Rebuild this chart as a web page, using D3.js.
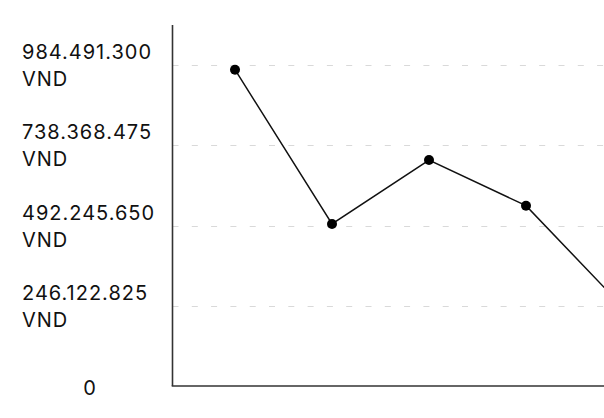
<!DOCTYPE html>
<html>
<head>
<meta charset="utf-8">
<script src="https://cdn.jsdelivr.net/npm/d3@7"></script>
<style>
  body { margin: 0; background: #fff; }
  svg { display: block; }
  .tick-label { font-family: Inter, "DejaVu Sans", sans-serif; font-size: 20px; letter-spacing: 1px; fill: #111; }
</style>
</head>
<body>
<div id="vis"></div>
<script>

// Data ----------------------------------------------------------------------

var categories = ["1", "2", "3", "4", "5"];
var values = [970000000, 497000000, 693000000, 553000000, 242000000];
var yTicks = [0, 246122825, 492245650, 738368475, 984491300];
var currency = "VND";

// Setup ---------------------------------------------------------------------

var width = 604,
    height = 418;

var plotLeft = 172.5,
    plotTop = 25,
    plotBottom = 386;

var vn = d3.formatLocale({decimal: ",", thousands: ".", grouping: [3], currency: ["", " VND"]});
var fmt = vn.format(",d");

var svg = d3.select("#vis").append("svg")
  .attr("width", width)
  .attr("height", height);

// Scales --------------------------------------------------------------------

var y = d3.scaleLinear()
  .domain([0, yTicks[yTicks.length - 1]])
  .range([plotBottom, 65]);

// points are spaced ~97px apart, chart scrolls past the right edge
var x = d3.scalePoint()
  .domain(categories)
  .range([235, 235 + 97 * (categories.length - 1)]);

// Grid ----------------------------------------------------------------------

svg.append("g")
  .attr("class", "grid")
  .selectAll("line")
  .data(yTicks.filter(function(d) { return d > 0; }))
  .enter().append("line")
    .attr("x1", plotLeft)
    .attr("x2", width)
    .attr("y1", function(d) { return Math.round(y(d)) + 0.5; })
    .attr("y2", function(d) { return Math.round(y(d)) + 0.5; })
    .attr("stroke", "#d9d9d9")
    .attr("stroke-width", 1.2)
    .attr("stroke-dasharray", "6,13.3");

// Axis labels ---------------------------------------------------------------

var labels = svg.append("g").attr("class", "y-labels");

yTicks.forEach(function(t) {
  var ty = y(t);
  if (t === 0) {
    labels.append("text")
      .attr("class", "tick-label")
      .attr("x", 90)
      .attr("y", ty + 9)
      .attr("text-anchor", "middle")
      .text("0");
  } else {
    var txt = labels.append("text")
      .attr("class", "tick-label")
      .attr("x", 22)
      .attr("y", ty - 6);
    txt.append("tspan").attr("x", 22).text(fmt(t));
    txt.append("tspan").attr("x", 22).attr("dy", 27).text(currency);
  }
});

// Axes lines ----------------------------------------------------------------

svg.append("line")
  .attr("x1", plotLeft).attr("x2", plotLeft)
  .attr("y1", plotTop).attr("y2", plotBottom)
  .attr("stroke", "#333").attr("stroke-width", 1.6);

svg.append("line")
  .attr("x1", plotLeft - 0.8).attr("x2", width)
  .attr("y1", plotBottom).attr("y2", plotBottom)
  .attr("stroke", "#333").attr("stroke-width", 1.6);

// Line + points -------------------------------------------------------------

svg.append("clipPath").attr("id", "plot-clip")
  .append("rect")
  .attr("x", plotLeft).attr("y", 0)
  .attr("width", width - plotLeft).attr("height", plotBottom);

var plot = svg.append("g").attr("clip-path", "url(#plot-clip)");

var line = d3.line()
  .x(function(d, i) { return x(categories[i]); })
  .y(function(d) { return y(d); });

plot.append("path")
  .datum(values)
  .attr("fill", "none")
  .attr("stroke", "#111")
  .attr("stroke-width", 1.5)
  .attr("d", line);

plot.selectAll(".dot")
  .data(values)
  .enter().append("circle")
    .attr("class", "dot")
    .attr("cx", function(d, i) { return x(categories[i]); })
    .attr("cy", function(d) { return y(d); })
    .attr("r", 5)
    .attr("fill", "#000");

</script>
</body>
</html>
